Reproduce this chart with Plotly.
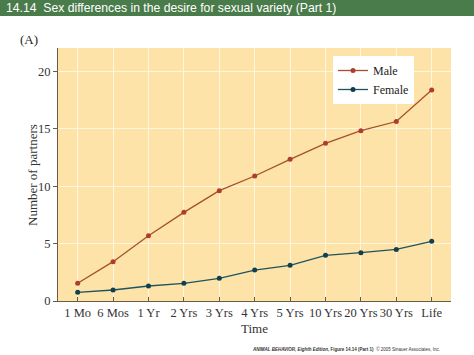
import plotly.graph_objects as go

categories = ["1 Mo", "6 Mos", "1 Yr", "2 Yrs", "3 Yrs", "4 Yrs", "5 Yrs",
              "10 Yrs", "20 Yrs", "30 Yrs", "Life"]
male = [1.55, 3.43, 5.69, 7.73, 9.62, 10.9, 12.35, 13.75, 14.85, 15.65, 18.4]
female = [0.76, 0.96, 1.31, 1.54, 1.98, 2.70, 3.11, 3.98, 4.21, 4.50, 5.20]
y_ticks = [0, 5, 10, 15, 20]

W, H = 474, 355
L, R, T, B = 58, 23, 48, 54
ph = H - T - B

def py(pix):
    return (H - B - pix) / ph

def px(pix):
    return (pix - L) / (W - L - R)

serif = "Liberation Serif"

fig = go.Figure()
fig.add_trace(go.Scatter(
    x=categories, y=male, name="Male", mode="lines+markers",
    line=dict(color="#a3502e", width=1.3),
    marker=dict(color="#b03d28", size=5)))
fig.add_trace(go.Scatter(
    x=categories, y=female, name="Female", mode="lines+markers",
    line=dict(color="#1f5361", width=1.3),
    marker=dict(color="#123f4d", size=5)))

fig.update_layout(
    width=W, height=H,
    margin=dict(l=L, r=R, t=T, b=B, autoexpand=False),
    paper_bgcolor="white",
    plot_bgcolor="#fde3a7",
    font=dict(family=serif, size=12, color="#333333"),
    showlegend=True,
    legend=dict(x=px(333), y=py(56), xanchor="left", yanchor="top",
                bgcolor="white", borderwidth=0,
                font=dict(family=serif, size=12, color="#222222"),
                tracegroupgap=0, itemwidth=30),
    xaxis=dict(
        type="category", range=[-0.556, 10.545],
        showgrid=True, gridcolor="#fff6e2", gridwidth=1,
        showline=True, linecolor="#6b5a44", linewidth=1.2,
        ticks="inside", ticklen=4, tickcolor="#6b5a44",
        tickfont=dict(family=serif, size=12.5, color="#333333"),
        zeroline=False, fixedrange=True, automargin=False,
    ),
    yaxis=dict(
        range=[0, 22.06], tickvals=y_ticks,
        showgrid=True, gridcolor="#fff6e2", gridwidth=1,
        showline=True, linecolor="#6b5a44", linewidth=1.2,
        ticks="outside", ticklen=4, tickcolor="#6b5a44",
        tickfont=dict(family=serif, size=12.5, color="#333333"),
        zeroline=False, fixedrange=True, automargin=False,
    ),
    shapes=[
        dict(type="rect", xref="paper", yref="paper",
             x0=px(0), x1=px(W), y0=py(16), y1=py(0),
             fillcolor="#4a7b4b", line=dict(width=0), layer="above"),
    ],
    annotations=[
        dict(text="14.14  Sex differences in the desire for sexual variety (Part 1)",
             xref="paper", yref="paper", x=px(4), y=py(8),
             xanchor="left", yanchor="middle", showarrow=False,
             font=dict(family="Liberation Sans", size=12.2, color="white")),
        dict(text="(A)", xref="paper", yref="paper", x=px(18), y=py(40),
             xanchor="left", yanchor="middle", showarrow=False,
             font=dict(family=serif, size=13, color="#222222")),
        dict(text="Number of partners", xref="paper", yref="paper",
             x=px(32), y=py(175), xanchor="center", yanchor="middle",
             textangle=-90, showarrow=False,
             font=dict(family=serif, size=13, color="#333333")),
        dict(text="Time", xref="paper", yref="paper",
             x=px(254), y=py(328), xanchor="center", yanchor="middle",
             showarrow=False,
             font=dict(family=serif, size=13, color="#333333")),
        dict(text="<b><i>ANIMAL BEHAVIOR, Eighth Edition,</i> Figure 14.14 (Part 1)</b>  © 2005 Sinauer Associates, Inc.",
             xref="paper", yref="paper", x=px(442), y=py(349),
             xanchor="right", yanchor="middle", showarrow=False,
             font=dict(family="Liberation Sans", size=4.5, color="#333333")),
    ],
)

fig.write_html("out.html", config={"displayModeBar": False},
               post_script="document.body.style.margin='0';document.body.style.overflow='hidden';")
